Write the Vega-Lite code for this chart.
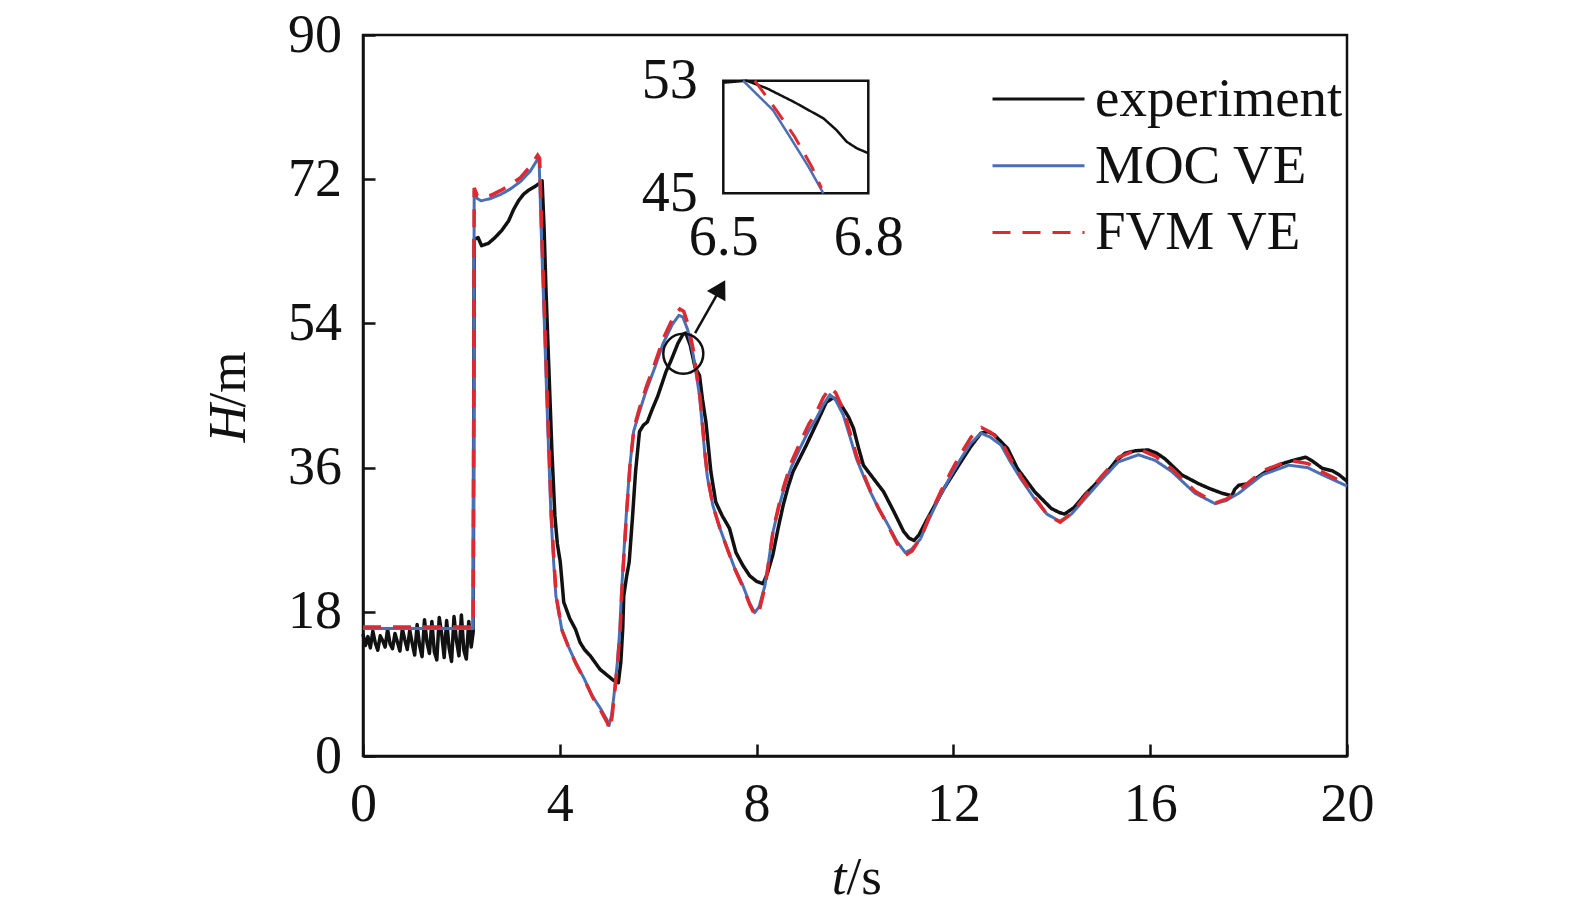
{
  "$schema": "https://vega.github.io/schema/vega-lite/v6.json",
  "width": 984,
  "height": 721,
  "autosize": "none",
  "padding": {"left": 363, "top": 35, "right": 228, "bottom": 167},
  "background": "white",
  "datasets": {
    "curves": [
      {"series":"experiment","t":0,"H":15.2},{"series":"experiment","t":0.05,"H":13.8},{"series":"experiment","t":0.1,"H":14.9},{"series":"experiment","t":0.15,"H":13.5},{"series":"experiment","t":0.2,"H":15.6},{"series":"experiment","t":0.25,"H":14.1},{"series":"experiment","t":0.3,"H":13.2},{"series":"experiment","t":0.35,"H":15.0},{"series":"experiment","t":0.4,"H":14.4},{"series":"experiment","t":0.45,"H":13.6},{"series":"experiment","t":0.5,"H":15.8},{"series":"experiment","t":0.55,"H":14.0},{"series":"experiment","t":0.6,"H":13.4},{"series":"experiment","t":0.65,"H":15.3},{"series":"experiment","t":0.7,"H":14.2},{"series":"experiment","t":0.75,"H":13.1},{"series":"experiment","t":0.8,"H":15.9},{"series":"experiment","t":0.85,"H":14.5},{"series":"experiment","t":0.9,"H":13.3},{"series":"experiment","t":0.95,"H":15.7},{"series":"experiment","t":1.0,"H":14.1},{"series":"experiment","t":1.05,"H":12.6},{"series":"experiment","t":1.1,"H":16.4},{"series":"experiment","t":1.15,"H":13.8},{"series":"experiment","t":1.2,"H":12.4},{"series":"experiment","t":1.25,"H":17.0},{"series":"experiment","t":1.3,"H":14.2},{"series":"experiment","t":1.35,"H":12.8},{"series":"experiment","t":1.4,"H":16.8},{"series":"experiment","t":1.45,"H":13.0},{"series":"experiment","t":1.5,"H":12.0},{"series":"experiment","t":1.55,"H":17.3},{"series":"experiment","t":1.6,"H":15.2},{"series":"experiment","t":1.65,"H":12.3},{"series":"experiment","t":1.7,"H":16.9},{"series":"experiment","t":1.75,"H":13.5},{"series":"experiment","t":1.8,"H":11.8},{"series":"experiment","t":1.85,"H":17.4},{"series":"experiment","t":1.9,"H":14.4},{"series":"experiment","t":1.95,"H":12.5},{"series":"experiment","t":2.0,"H":17.6},{"series":"experiment","t":2.05,"H":13.2},{"series":"experiment","t":2.1,"H":12.1},{"series":"experiment","t":2.15,"H":16.8},{"series":"experiment","t":2.2,"H":13.6},{"series":"experiment","t":2.24,"H":15.5},
      {"series":"experiment","t":2.26,"H":64.5},{"series":"experiment","t":2.34,"H":64.7},{"series":"experiment","t":2.41,"H":63.7},{"series":"experiment","t":2.55,"H":64.0},{"series":"experiment","t":2.68,"H":64.7},{"series":"experiment","t":2.82,"H":65.6},{"series":"experiment","t":2.96,"H":66.8},{"series":"experiment","t":3.06,"H":68.2},{"series":"experiment","t":3.16,"H":69.3},{"series":"experiment","t":3.26,"H":70.1},{"series":"experiment","t":3.36,"H":70.6},{"series":"experiment","t":3.47,"H":71.0},{"series":"experiment","t":3.57,"H":71.4},{"series":"experiment","t":3.64,"H":71.8},{"series":"experiment","t":3.68,"H":66},{"series":"experiment","t":3.72,"H":58},{"series":"experiment","t":3.78,"H":48},{"series":"experiment","t":3.84,"H":38},{"series":"experiment","t":3.9,"H":30},{"series":"experiment","t":3.95,"H":26.5},{"series":"experiment","t":4.01,"H":24.2},{"series":"experiment","t":4.08,"H":19.2},{"series":"experiment","t":4.2,"H":17.2},{"series":"experiment","t":4.32,"H":15.8},{"series":"experiment","t":4.41,"H":14.2},{"series":"experiment","t":4.5,"H":13.3},{"series":"experiment","t":4.62,"H":12.5},{"series":"experiment","t":4.82,"H":10.8},{"series":"experiment","t":5.0,"H":9.9},{"series":"experiment","t":5.1,"H":9.4},{"series":"experiment","t":5.19,"H":9.15},{"series":"experiment","t":5.24,"H":11.7},{"series":"experiment","t":5.28,"H":16},{"series":"experiment","t":5.3,"H":20},{"series":"experiment","t":5.36,"H":22.5},{"series":"experiment","t":5.41,"H":24.2},{"series":"experiment","t":5.48,"H":30},{"series":"experiment","t":5.54,"H":35.5},{"series":"experiment","t":5.62,"H":40.5},{"series":"experiment","t":5.7,"H":41.3},{"series":"experiment","t":5.78,"H":41.7},{"series":"experiment","t":5.88,"H":43.3},{"series":"experiment","t":5.99,"H":44.9},{"series":"experiment","t":6.16,"H":48.0},{"series":"experiment","t":6.25,"H":49.2},{"series":"experiment","t":6.4,"H":51.5},{"series":"experiment","t":6.5,"H":52.6},{"series":"experiment","t":6.56,"H":52.8},{"series":"experiment","t":6.65,"H":51.3},{"series":"experiment","t":6.75,"H":48.5},{"series":"experiment","t":6.84,"H":47.5},{"series":"experiment","t":6.9,"H":44.5},{"series":"experiment","t":6.97,"H":41.7},{"series":"experiment","t":7.07,"H":35.5},{"series":"experiment","t":7.17,"H":31.7},{"series":"experiment","t":7.3,"H":30.0},{"series":"experiment","t":7.45,"H":28.4},{"series":"experiment","t":7.58,"H":25.4},{"series":"experiment","t":7.72,"H":23.8},{"series":"experiment","t":7.86,"H":22.5},{"series":"experiment","t":8.0,"H":21.8},{"series":"experiment","t":8.13,"H":21.5},{"series":"experiment","t":8.22,"H":22.8},{"series":"experiment","t":8.33,"H":25.1},{"series":"experiment","t":8.44,"H":28.5},{"series":"experiment","t":8.54,"H":31.3},{"series":"experiment","t":8.64,"H":33.6},{"series":"experiment","t":8.74,"H":35.5},{"series":"experiment","t":8.88,"H":37.2},{"series":"experiment","t":9.01,"H":38.8},{"series":"experiment","t":9.21,"H":41.4},{"series":"experiment","t":9.42,"H":44.2},{"series":"experiment","t":9.56,"H":44.7},{"series":"experiment","t":9.66,"H":44.3},{"series":"experiment","t":9.76,"H":43.4},{"series":"experiment","t":9.87,"H":42.3},{"series":"experiment","t":9.97,"H":40.9},{"series":"experiment","t":10.07,"H":38.5},{"series":"experiment","t":10.17,"H":36.3},{"series":"experiment","t":10.28,"H":35.4},{"series":"experiment","t":10.38,"H":34.6},{"series":"experiment","t":10.58,"H":33.0},{"series":"experiment","t":10.79,"H":30.5},{"series":"experiment","t":10.99,"H":28.0},{"series":"experiment","t":11.1,"H":27.2},{"series":"experiment","t":11.2,"H":26.9},{"series":"experiment","t":11.3,"H":27.6},{"series":"experiment","t":11.47,"H":29.6},{"series":"experiment","t":11.64,"H":31.5},{"series":"experiment","t":11.81,"H":33.4},{"series":"experiment","t":12.15,"H":36.7},{"series":"experiment","t":12.35,"H":38.6},{"series":"experiment","t":12.56,"H":40.3},{"series":"experiment","t":12.7,"H":40.5},{"series":"experiment","t":12.83,"H":40.1},{"series":"experiment","t":13.1,"H":38.4},{"series":"experiment","t":13.3,"H":35.9},{"series":"experiment","t":13.65,"H":33.0},{"series":"experiment","t":13.99,"H":30.9},{"series":"experiment","t":14.15,"H":30.4},{"series":"experiment","t":14.26,"H":30.2},{"series":"experiment","t":14.45,"H":31.0},{"series":"experiment","t":14.7,"H":32.8},{"series":"experiment","t":15.08,"H":35.1},{"series":"experiment","t":15.3,"H":36.8},{"series":"experiment","t":15.49,"H":37.8},{"series":"experiment","t":15.7,"H":38.1},{"series":"experiment","t":15.96,"H":38.2},{"series":"experiment","t":16.13,"H":37.8},{"series":"experiment","t":16.3,"H":37.1},{"series":"experiment","t":16.64,"H":35.1},{"series":"experiment","t":16.98,"H":34.0},{"series":"experiment","t":17.2,"H":33.4},{"series":"experiment","t":17.46,"H":32.8},{"series":"experiment","t":17.66,"H":32.5},{"series":"experiment","t":17.72,"H":33.3},{"series":"experiment","t":17.8,"H":33.8},{"series":"experiment","t":18.0,"H":34.0},{"series":"experiment","t":18.35,"H":35.5},{"series":"experiment","t":18.69,"H":36.5},{"series":"experiment","t":18.9,"H":36.9},{"series":"experiment","t":19.16,"H":37.3},{"series":"experiment","t":19.3,"H":36.8},{"series":"experiment","t":19.5,"H":35.9},{"series":"experiment","t":19.7,"H":35.6},{"series":"experiment","t":19.84,"H":35.1},{"series":"experiment","t":20.0,"H":34.3},
      {"series":"MOC VE","t":0,"H":15.9},{"series":"MOC VE","t":2.24,"H":15.9},{"series":"MOC VE","t":2.26,"H":70.5},{"series":"MOC VE","t":2.32,"H":69.6},{"series":"MOC VE","t":2.4,"H":69.3},{"series":"MOC VE","t":2.6,"H":69.6},{"series":"MOC VE","t":2.8,"H":70.1},{"series":"MOC VE","t":3.0,"H":70.8},{"series":"MOC VE","t":3.2,"H":71.7},{"series":"MOC VE","t":3.4,"H":73.0},{"series":"MOC VE","t":3.55,"H":74.5},{"series":"MOC VE","t":3.58,"H":74.2},{"series":"MOC VE","t":3.62,"H":66},{"series":"MOC VE","t":3.68,"H":55},{"series":"MOC VE","t":3.75,"H":42},{"series":"MOC VE","t":3.82,"H":30},{"series":"MOC VE","t":3.875,"H":24.2},{"series":"MOC VE","t":3.92,"H":20.0},{"series":"MOC VE","t":4.04,"H":15.8},{"series":"MOC VE","t":4.18,"H":13.6},{"series":"MOC VE","t":4.32,"H":11.7},{"series":"MOC VE","t":4.5,"H":9.6},{"series":"MOC VE","t":4.66,"H":7.5},{"series":"MOC VE","t":4.82,"H":6.0},{"series":"MOC VE","t":4.96,"H":4.5},{"series":"MOC VE","t":5.0,"H":3.8},{"series":"MOC VE","t":5.05,"H":5.0},{"series":"MOC VE","t":5.1,"H":7.5},{"series":"MOC VE","t":5.17,"H":11.7},{"series":"MOC VE","t":5.22,"H":15.8},{"series":"MOC VE","t":5.25,"H":20},{"series":"MOC VE","t":5.29,"H":24.2},{"series":"MOC VE","t":5.35,"H":30},{"series":"MOC VE","t":5.42,"H":36},{"series":"MOC VE","t":5.5,"H":40.5},{"series":"MOC VE","t":5.61,"H":42.8},{"series":"MOC VE","t":5.75,"H":45.5},{"series":"MOC VE","t":5.95,"H":48.8},{"series":"MOC VE","t":6.1,"H":51.5},{"series":"MOC VE","t":6.29,"H":53.9},{"series":"MOC VE","t":6.42,"H":55.0},{"series":"MOC VE","t":6.5,"H":54.8},{"series":"MOC VE","t":6.6,"H":53.2},{"series":"MOC VE","t":6.7,"H":50.5},{"series":"MOC VE","t":6.77,"H":47.8},{"series":"MOC VE","t":6.84,"H":45.0},{"series":"MOC VE","t":6.9,"H":41.0},{"series":"MOC VE","t":6.95,"H":37.5},{"series":"MOC VE","t":7.0,"H":34.8},{"series":"MOC VE","t":7.11,"H":31.3},{"series":"MOC VE","t":7.25,"H":28.5},{"series":"MOC VE","t":7.38,"H":26.3},{"series":"MOC VE","t":7.55,"H":23.5},{"series":"MOC VE","t":7.72,"H":21.3},{"series":"MOC VE","t":7.85,"H":19.2},{"series":"MOC VE","t":7.96,"H":17.9},{"series":"MOC VE","t":8.05,"H":18.6},{"series":"MOC VE","t":8.17,"H":21.3},{"series":"MOC VE","t":8.25,"H":24.5},{"series":"MOC VE","t":8.33,"H":27.9},{"series":"MOC VE","t":8.45,"H":31},{"series":"MOC VE","t":8.54,"H":33},{"series":"MOC VE","t":8.7,"H":36},{"series":"MOC VE","t":8.88,"H":38.4},{"series":"MOC VE","t":9.05,"H":40.5},{"series":"MOC VE","t":9.22,"H":42.2},{"series":"MOC VE","t":9.35,"H":43.8},{"series":"MOC VE","t":9.49,"H":45.1},{"series":"MOC VE","t":9.6,"H":44.5},{"series":"MOC VE","t":9.76,"H":42.6},{"series":"MOC VE","t":9.9,"H":39.8},{"series":"MOC VE","t":10.03,"H":37.1},{"series":"MOC VE","t":10.17,"H":35},{"series":"MOC VE","t":10.31,"H":33},{"series":"MOC VE","t":10.47,"H":31},{"series":"MOC VE","t":10.64,"H":29.2},{"series":"MOC VE","t":10.85,"H":26.8},{"series":"MOC VE","t":11.02,"H":25.4},{"series":"MOC VE","t":11.15,"H":25.8},{"series":"MOC VE","t":11.33,"H":27.1},{"series":"MOC VE","t":11.5,"H":29.5},{"series":"MOC VE","t":11.74,"H":32.6},{"series":"MOC VE","t":11.95,"H":35},{"series":"MOC VE","t":12.15,"H":37.1},{"series":"MOC VE","t":12.35,"H":39},{"series":"MOC VE","t":12.56,"H":40.3},{"series":"MOC VE","t":12.75,"H":39.8},{"series":"MOC VE","t":12.97,"H":38.8},{"series":"MOC VE","t":13.15,"H":36.8},{"series":"MOC VE","t":13.37,"H":34.6},{"series":"MOC VE","t":13.65,"H":32.1},{"series":"MOC VE","t":13.9,"H":30.2},{"series":"MOC VE","t":14.16,"H":29.3},{"series":"MOC VE","t":14.4,"H":30.2},{"series":"MOC VE","t":14.67,"H":32.1},{"series":"MOC VE","t":15.0,"H":34.4},{"series":"MOC VE","t":15.35,"H":36.7},{"series":"MOC VE","t":15.76,"H":37.6},{"series":"MOC VE","t":16.1,"H":36.9},{"series":"MOC VE","t":16.44,"H":35.5},{"series":"MOC VE","t":16.91,"H":32.8},{"series":"MOC VE","t":17.32,"H":31.5},{"series":"MOC VE","t":17.55,"H":31.9},{"series":"MOC VE","t":17.8,"H":32.8},{"series":"MOC VE","t":18.28,"H":35.1},{"series":"MOC VE","t":18.82,"H":36.3},{"series":"MOC VE","t":19.2,"H":36.0},{"series":"MOC VE","t":19.5,"H":35.1},{"series":"MOC VE","t":20.0,"H":33.7},
      {"series":"FVM VE","t":0,"H":16.1},{"series":"FVM VE","t":2.24,"H":16.1},{"series":"FVM VE","t":2.26,"H":70.9},{"series":"FVM VE","t":2.32,"H":70.0},{"series":"FVM VE","t":2.4,"H":69.7},{"series":"FVM VE","t":2.6,"H":70.0},{"series":"FVM VE","t":2.8,"H":70.6},{"series":"FVM VE","t":3.0,"H":71.3},{"series":"FVM VE","t":3.2,"H":72.2},{"series":"FVM VE","t":3.4,"H":73.6},{"series":"FVM VE","t":3.55,"H":75.0},{"series":"FVM VE","t":3.59,"H":74.6},{"series":"FVM VE","t":3.63,"H":66},{"series":"FVM VE","t":3.69,"H":55},{"series":"FVM VE","t":3.76,"H":42},{"series":"FVM VE","t":3.83,"H":30},{"series":"FVM VE","t":3.885,"H":24.0},{"series":"FVM VE","t":3.93,"H":19.8},{"series":"FVM VE","t":4.05,"H":15.6},{"series":"FVM VE","t":4.19,"H":13.4},{"series":"FVM VE","t":4.33,"H":11.5},{"series":"FVM VE","t":4.51,"H":9.4},{"series":"FVM VE","t":4.67,"H":7.3},{"series":"FVM VE","t":4.83,"H":5.7},{"series":"FVM VE","t":4.97,"H":4.1},{"series":"FVM VE","t":5.01,"H":3.3},{"series":"FVM VE","t":5.06,"H":4.8},{"series":"FVM VE","t":5.11,"H":7.6},{"series":"FVM VE","t":5.18,"H":11.9},{"series":"FVM VE","t":5.23,"H":16.0},{"series":"FVM VE","t":5.26,"H":20.3},{"series":"FVM VE","t":5.3,"H":24.6},{"series":"FVM VE","t":5.36,"H":30.5},{"series":"FVM VE","t":5.43,"H":36.5},{"series":"FVM VE","t":5.51,"H":41.0},{"series":"FVM VE","t":5.62,"H":43.4},{"series":"FVM VE","t":5.76,"H":46.1},{"series":"FVM VE","t":5.96,"H":49.5},{"series":"FVM VE","t":6.11,"H":52.2},{"series":"FVM VE","t":6.3,"H":54.7},{"series":"FVM VE","t":6.44,"H":55.8},{"series":"FVM VE","t":6.52,"H":55.5},{"series":"FVM VE","t":6.61,"H":53.8},{"series":"FVM VE","t":6.71,"H":50.8},{"series":"FVM VE","t":6.78,"H":47.8},{"series":"FVM VE","t":6.85,"H":44.8},{"series":"FVM VE","t":6.91,"H":40.8},{"series":"FVM VE","t":6.96,"H":37.3},{"series":"FVM VE","t":7.01,"H":34.6},{"series":"FVM VE","t":7.12,"H":31.1},{"series":"FVM VE","t":7.26,"H":28.3},{"series":"FVM VE","t":7.39,"H":26.1},{"series":"FVM VE","t":7.56,"H":23.3},{"series":"FVM VE","t":7.73,"H":21.0},{"series":"FVM VE","t":7.86,"H":18.9},{"series":"FVM VE","t":7.97,"H":17.5},{"series":"FVM VE","t":8.06,"H":18.3},{"series":"FVM VE","t":8.18,"H":21.4},{"series":"FVM VE","t":8.26,"H":24.8},{"series":"FVM VE","t":8.34,"H":28.3},{"series":"FVM VE","t":8.46,"H":31.5},{"series":"FVM VE","t":8.55,"H":33.6},{"series":"FVM VE","t":8.71,"H":36.7},{"series":"FVM VE","t":8.89,"H":39.2},{"series":"FVM VE","t":9.06,"H":41.4},{"series":"FVM VE","t":9.23,"H":43.1},{"series":"FVM VE","t":9.36,"H":44.8},{"series":"FVM VE","t":9.5,"H":46.0},{"series":"FVM VE","t":9.61,"H":45.3},{"series":"FVM VE","t":9.77,"H":43.1},{"series":"FVM VE","t":9.91,"H":40.1},{"series":"FVM VE","t":10.04,"H":37.3},{"series":"FVM VE","t":10.18,"H":35.1},{"series":"FVM VE","t":10.32,"H":33.0},{"series":"FVM VE","t":10.48,"H":30.9},{"series":"FVM VE","t":10.65,"H":29.0},{"series":"FVM VE","t":10.86,"H":26.5},{"series":"FVM VE","t":11.03,"H":25.1},{"series":"FVM VE","t":11.16,"H":25.6},{"series":"FVM VE","t":11.34,"H":27.3},{"series":"FVM VE","t":11.51,"H":29.9},{"series":"FVM VE","t":11.75,"H":33.1},{"series":"FVM VE","t":11.96,"H":35.6},{"series":"FVM VE","t":12.16,"H":37.8},{"series":"FVM VE","t":12.36,"H":39.8},{"series":"FVM VE","t":12.57,"H":41.0},{"series":"FVM VE","t":12.76,"H":40.4},{"series":"FVM VE","t":12.98,"H":39.2},{"series":"FVM VE","t":13.16,"H":37.1},{"series":"FVM VE","t":13.38,"H":34.8},{"series":"FVM VE","t":13.66,"H":32.2},{"series":"FVM VE","t":13.91,"H":30.1},{"series":"FVM VE","t":14.17,"H":29.2},{"series":"FVM VE","t":14.41,"H":30.3},{"series":"FVM VE","t":14.68,"H":32.5},{"series":"FVM VE","t":15.01,"H":34.9},{"series":"FVM VE","t":15.36,"H":37.3},{"series":"FVM VE","t":15.77,"H":38.3},{"series":"FVM VE","t":16.11,"H":37.4},{"series":"FVM VE","t":16.45,"H":35.8},{"series":"FVM VE","t":16.92,"H":33.0},{"series":"FVM VE","t":17.33,"H":31.6},{"series":"FVM VE","t":17.56,"H":32.1},{"series":"FVM VE","t":17.81,"H":33.2},{"series":"FVM VE","t":18.29,"H":35.6},{"series":"FVM VE","t":18.83,"H":36.9},{"series":"FVM VE","t":19.21,"H":36.5},{"series":"FVM VE","t":19.51,"H":35.4},{"series":"FVM VE","t":20.0,"H":33.9}
    ],
    "zoomed": [
      {"series":"experiment","t":6.5,"H":52.86},{"series":"experiment","t":6.548,"H":53.0},{"series":"experiment","t":6.59,"H":52.46},{"series":"experiment","t":6.645,"H":51.51},{"series":"experiment","t":6.707,"H":50.33},{"series":"experiment","t":6.734,"H":49.5},{"series":"experiment","t":6.755,"H":48.67},{"series":"experiment","t":6.776,"H":48.2},{"series":"experiment","t":6.8,"H":47.85},
      {"series":"MOC VE","t":6.541,"H":53},{"series":"MOC VE","t":6.603,"H":50.9},{"series":"MOC VE","t":6.638,"H":49},{"series":"MOC VE","t":6.676,"H":46.9},{"series":"MOC VE","t":6.707,"H":45},
      {"series":"FVM VE","t":6.565,"H":53},{"series":"FVM VE","t":6.61,"H":50.9},{"series":"FVM VE","t":6.648,"H":49},{"series":"FVM VE","t":6.683,"H":46.9},{"series":"FVM VE","t":6.703,"H":45.36}
    ],
    "frame": [{"t0":6.5,"t1":6.8,"H0":45,"H1":53}],
    "ring": [{"t":6.51,"H":50.2}],
    "pointer": [{"t":6.75,"H":52.8},{"t":7.27,"H":58.4}],
    "head": [{"t":7.27,"H":58.4}]
  },
  "layer": [
    {
      "encoding": {
        "x": {"field":"t","type":"quantitative","scale":{"domain":[0,20],"nice":false,"zero":false},
          "axis":{"values":[0,4,8,12,16,20],"tickSize":-12,"labelPadding":33,"labelFlush":false,"labelOverlap":false,
            "title":"t","titleFontStyle":"italic","titleX":483,"titleY":137,"titleAlign":"right","titleBaseline":"alphabetic"}},
        "y": {"field":"H","type":"quantitative","scale":{"domain":[0,90],"nice":false,"zero":false},
          "axis":{"values":[0,18,36,54,72,90],"tickSize":-12,"labelPadding":33.5,"labelOverlap":false,
            "title":"H","titleFontStyle":"italic","titleAngle":-90,"titleX":-119,"titleY":407,"titleAlign":"left","titleBaseline":"alphabetic"}}
      },
      "layer": [
        {
          "data": {"name":"curves"},
          "transform": [{"filter":"datum.series === 'experiment'"}],
          "mark": {"type":"line","strokeWidth":3.5,"strokeJoin":"round"},
          "encoding": {
            "color": {"field":"series","type":"nominal","scale":{"domain":["experiment","MOC VE","FVM VE"],"range":["#111111","#4a6fb5","#dc2a30"]},"legend":{"title":null}},
            "strokeDash": {"field":"series","type":"nominal","scale":{"domain":["experiment","MOC VE","FVM VE"],"range":[[1,0],[1,0],[18,12]]},"legend":{"title":null}}
          }
        },
        {
          "data": {"name":"curves"},
          "transform": [{"filter":"datum.series === 'MOC VE'"}],
          "mark": {"type":"line","strokeWidth":3,"strokeJoin":"round"},
          "encoding": {
            "color": {"field":"series","type":"nominal","legend":{"title":null}},
            "strokeDash": {"field":"series","type":"nominal","legend":{"title":null}}
          }
        },
        {
          "data": {"name":"curves"},
          "transform": [{"filter":"datum.series === 'FVM VE'"}],
          "mark": {"type":"line","strokeWidth":3.5},
          "encoding": {
            "color": {"field":"series","type":"nominal","legend":{"title":null}},
            "strokeDash": {"field":"series","type":"nominal","legend":{"title":null}}
          }
        },
        {
          "data": {"name":"ring"},
          "mark": {"type":"point","shape":"circle","size":1600,"filled":false,"stroke":"#111111","strokeWidth":2.5,"opacity":1},
          "encoding": {}
        },
        {
          "data": {"name":"pointer"},
          "mark": {"type":"line","stroke":"#111111","strokeWidth":2.5},
          "encoding": {}
        },
        {
          "data": {"name":"head"},
          "mark": {"type":"point","shape":"triangle-up","size":450,"filled":true,"fill":"#111111","stroke":null,"angle":29.4,"opacity":1},
          "encoding": {}
        }
      ]
    },
    {
      "encoding": {
        "x": {"field":"t","type":"quantitative","scale":{"domain":[6.5,6.8],"range":[360.3,505.3],"nice":false,"zero":false},
          "axis":{"orient":"bottom","offset":-562.7,"values":[6.5,6.8],"ticks":false,"domain":false,"labelPadding":17,"labelFontSize":56,"labelFlush":false,"labelOverlap":false,
            "title":"/s","titleX":483,"titleY":699.7,"titleAlign":"left","titleBaseline":"alphabetic"}},
        "y": {"field":"H","type":"quantitative","scale":{"domain":[45,53],"range":[158.3,45.7],"nice":false,"zero":false},
          "axis":{"orient":"left","offset":-360.3,"values":[45,53],"ticks":false,"domain":false,"labelPadding":26,"labelFontSize":56,"labelOverlap":false,
            "title":"/m","titleAngle":-90,"titleX":-479.3,"titleY":372,"titleAlign":"left","titleBaseline":"alphabetic"}}
      },
      "layer": [
        {
          "data": {"name":"frame"},
          "mark": {"type":"rect","fill":null,"stroke":"#111111","strokeWidth":2.5},
          "encoding": {
            "x": {"field":"t0","type":"quantitative"},
            "x2": {"field":"t1"},
            "y": {"field":"H0","type":"quantitative"},
            "y2": {"field":"H1"}
          }
        },
        {
          "data": {"name":"zoomed"},
          "transform": [{"filter":"datum.series === 'experiment'"}],
          "mark": {"type":"line","strokeWidth":2.5},
          "encoding": {
            "color": {"field":"series","type":"nominal","legend":{"title":null}},
            "strokeDash": {"field":"series","type":"nominal","legend":{"title":null}}
          }
        },
        {
          "data": {"name":"zoomed"},
          "transform": [{"filter":"datum.series === 'MOC VE'"}],
          "mark": {"type":"line","strokeWidth":2.5},
          "encoding": {
            "color": {"field":"series","type":"nominal","legend":{"title":null}},
            "strokeDash": {"field":"series","type":"nominal","legend":{"title":null}}
          }
        },
        {
          "data": {"name":"zoomed"},
          "transform": [{"filter":"datum.series === 'FVM VE'"}],
          "mark": {"type":"line","strokeWidth":3},
          "encoding": {
            "color": {"field":"series","type":"nominal","legend":{"title":null}},
            "strokeDash": {"field":"series","type":"nominal","legend":{"title":null}}
          }
        }
      ]
    }
  ],
  "resolve": {"scale": {"x":"independent","y":"independent"}, "axis": {"x":"independent","y":"independent"}},
  "config": {
    "font": "Liberation Serif",
    "view": {"stroke": "#111111", "strokeWidth": 2.5},
    "axis": {
      "grid": false,
      "domainColor": "#111111", "domainWidth": 2.5,
      "tickColor": "#111111", "tickWidth": 2.5,
      "labelFont": "Liberation Serif", "labelFontSize": 54, "labelColor": "#111111",
      "titleFont": "Liberation Serif", "titleFontSize": 53, "titleColor": "#111111", "titleFontWeight": "normal"
    },
    "legend": {
      "orient": "none", "legendX": 628, "legendY": 33,
      "symbolType": "stroke", "symbolSize": 8464, "symbolStrokeWidth": 3,
      "labelFont": "Liberation Serif", "labelFontSize": 55, "labelColor": "#111111", "labelLimit": 0,
      "labelOffset": 9, "rowPadding": 4.7, "clipHeight": 62, "padding": 0, "symbolOffset": 0
    }
  }
}
